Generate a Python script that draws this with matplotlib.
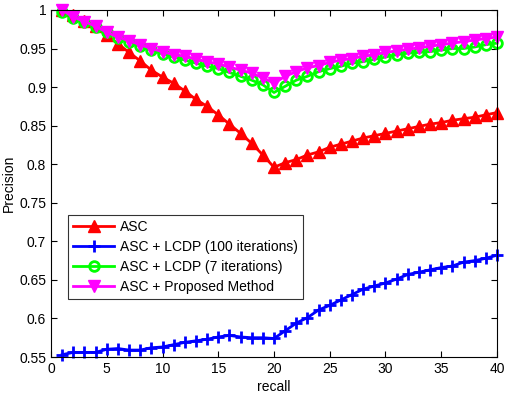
import matplotlib
matplotlib.use("Agg")
import matplotlib.pyplot as plt

plt.rcParams["font.family"] = ["Liberation Sans", "DejaVu Sans"]

recall = list(range(1, 41))

asc = [1.000, 0.993, 0.986, 0.979, 0.968, 0.956, 0.945, 0.934, 0.922, 0.913,
       0.905, 0.895, 0.884, 0.875, 0.864, 0.852, 0.840, 0.827, 0.812, 0.796,
       0.802, 0.806, 0.812, 0.816, 0.822, 0.826, 0.830, 0.834, 0.837, 0.840,
       0.843, 0.846, 0.849, 0.852, 0.854, 0.857, 0.859, 0.861, 0.864, 0.867]

lcdp_100 = [0.553, 0.556, 0.556, 0.556, 0.560, 0.561, 0.559, 0.559, 0.562, 0.563,
            0.566, 0.569, 0.571, 0.573, 0.576, 0.578, 0.576, 0.575, 0.575, 0.574,
            0.584, 0.594, 0.601, 0.611, 0.617, 0.624, 0.631, 0.638, 0.642, 0.646,
            0.651, 0.657, 0.660, 0.663, 0.666, 0.668, 0.673, 0.675, 0.678, 0.682]

lcdp_7 = [0.998, 0.990, 0.985, 0.978, 0.971, 0.964, 0.959, 0.953, 0.948, 0.943,
          0.939, 0.935, 0.931, 0.927, 0.924, 0.919, 0.914, 0.909, 0.903, 0.893,
          0.901, 0.909, 0.914, 0.920, 0.924, 0.927, 0.931, 0.933, 0.936, 0.939,
          0.942, 0.944, 0.945, 0.946, 0.948, 0.950, 0.950, 0.952, 0.955, 0.957]

proposed = [1.000, 0.991, 0.985, 0.979, 0.971, 0.965, 0.960, 0.955, 0.950, 0.946,
            0.942, 0.940, 0.936, 0.933, 0.930, 0.926, 0.922, 0.918, 0.912, 0.905,
            0.914, 0.920, 0.925, 0.928, 0.932, 0.935, 0.937, 0.940, 0.942, 0.945,
            0.947, 0.949, 0.951, 0.953, 0.955, 0.957, 0.959, 0.961, 0.963, 0.965]

x_ticks = [0, 5, 10, 15, 20, 25, 30, 35, 40]
y_ticks = [0.55, 0.6, 0.65, 0.7, 0.75, 0.8, 0.85, 0.9, 0.95, 1.0]
y_labels = ["0.55", "0.6", "0.65", "0.7", "0.75", "0.8", "0.85", "0.9", "0.95", "1"]

fig = plt.figure(figsize=(5.06, 3.93), dpi=100)
ax = fig.add_axes([0.1008, 0.0916, 0.8814, 0.883])

# markers run past the axes box like in MATLAB, so no clipping
ax.plot(recall, asc, color="#ff0000", lw=2, marker="^", ms=8,
        mfc="#ff0000", mec="#ff0000", label="ASC", clip_on=False)
ax.plot(recall, lcdp_100, color="#0000ff", lw=2, marker="+", ms=8, mew=2,
        label="ASC + LCDP (100 iterations)", clip_on=False)
ax.plot(recall, lcdp_7, color="#00ff00", lw=2, marker="o", ms=7, mew=2,
        mfc="none", mec="#00ff00", label="ASC + LCDP (7 iterations)", clip_on=False)
ax.plot(recall, proposed, color="#ff00ff", lw=2, marker="v", ms=8,
        mfc="#ff00ff", mec="#ff00ff", label="ASC + Proposed Method", clip_on=False)

ax.set_xlim(0, 40)
ax.set_ylim(0.55, 1.0)
ax.set_xticks(x_ticks)
ax.set_yticks(y_ticks)
ax.set_yticklabels(y_labels)
ax.tick_params(direction="in", top=True, right=True, labelsize=10, length=4)
for s in ax.spines.values():
    s.set_linewidth(0.8)
ax.set_xlabel("recall", fontsize=10, labelpad=3)
ax.set_ylabel("Precision", fontsize=10, labelpad=2)

leg = ax.legend(loc="upper left", bbox_to_anchor=(0.038, 0.408), fontsize=10,
                frameon=True, fancybox=False, edgecolor="black",
                handlelength=3.0, borderpad=0.35, labelspacing=0.42,
                handletextpad=0.4, borderaxespad=0)
leg.get_frame().set_linewidth(0.8)

fig.savefig("out.png", dpi=100)
